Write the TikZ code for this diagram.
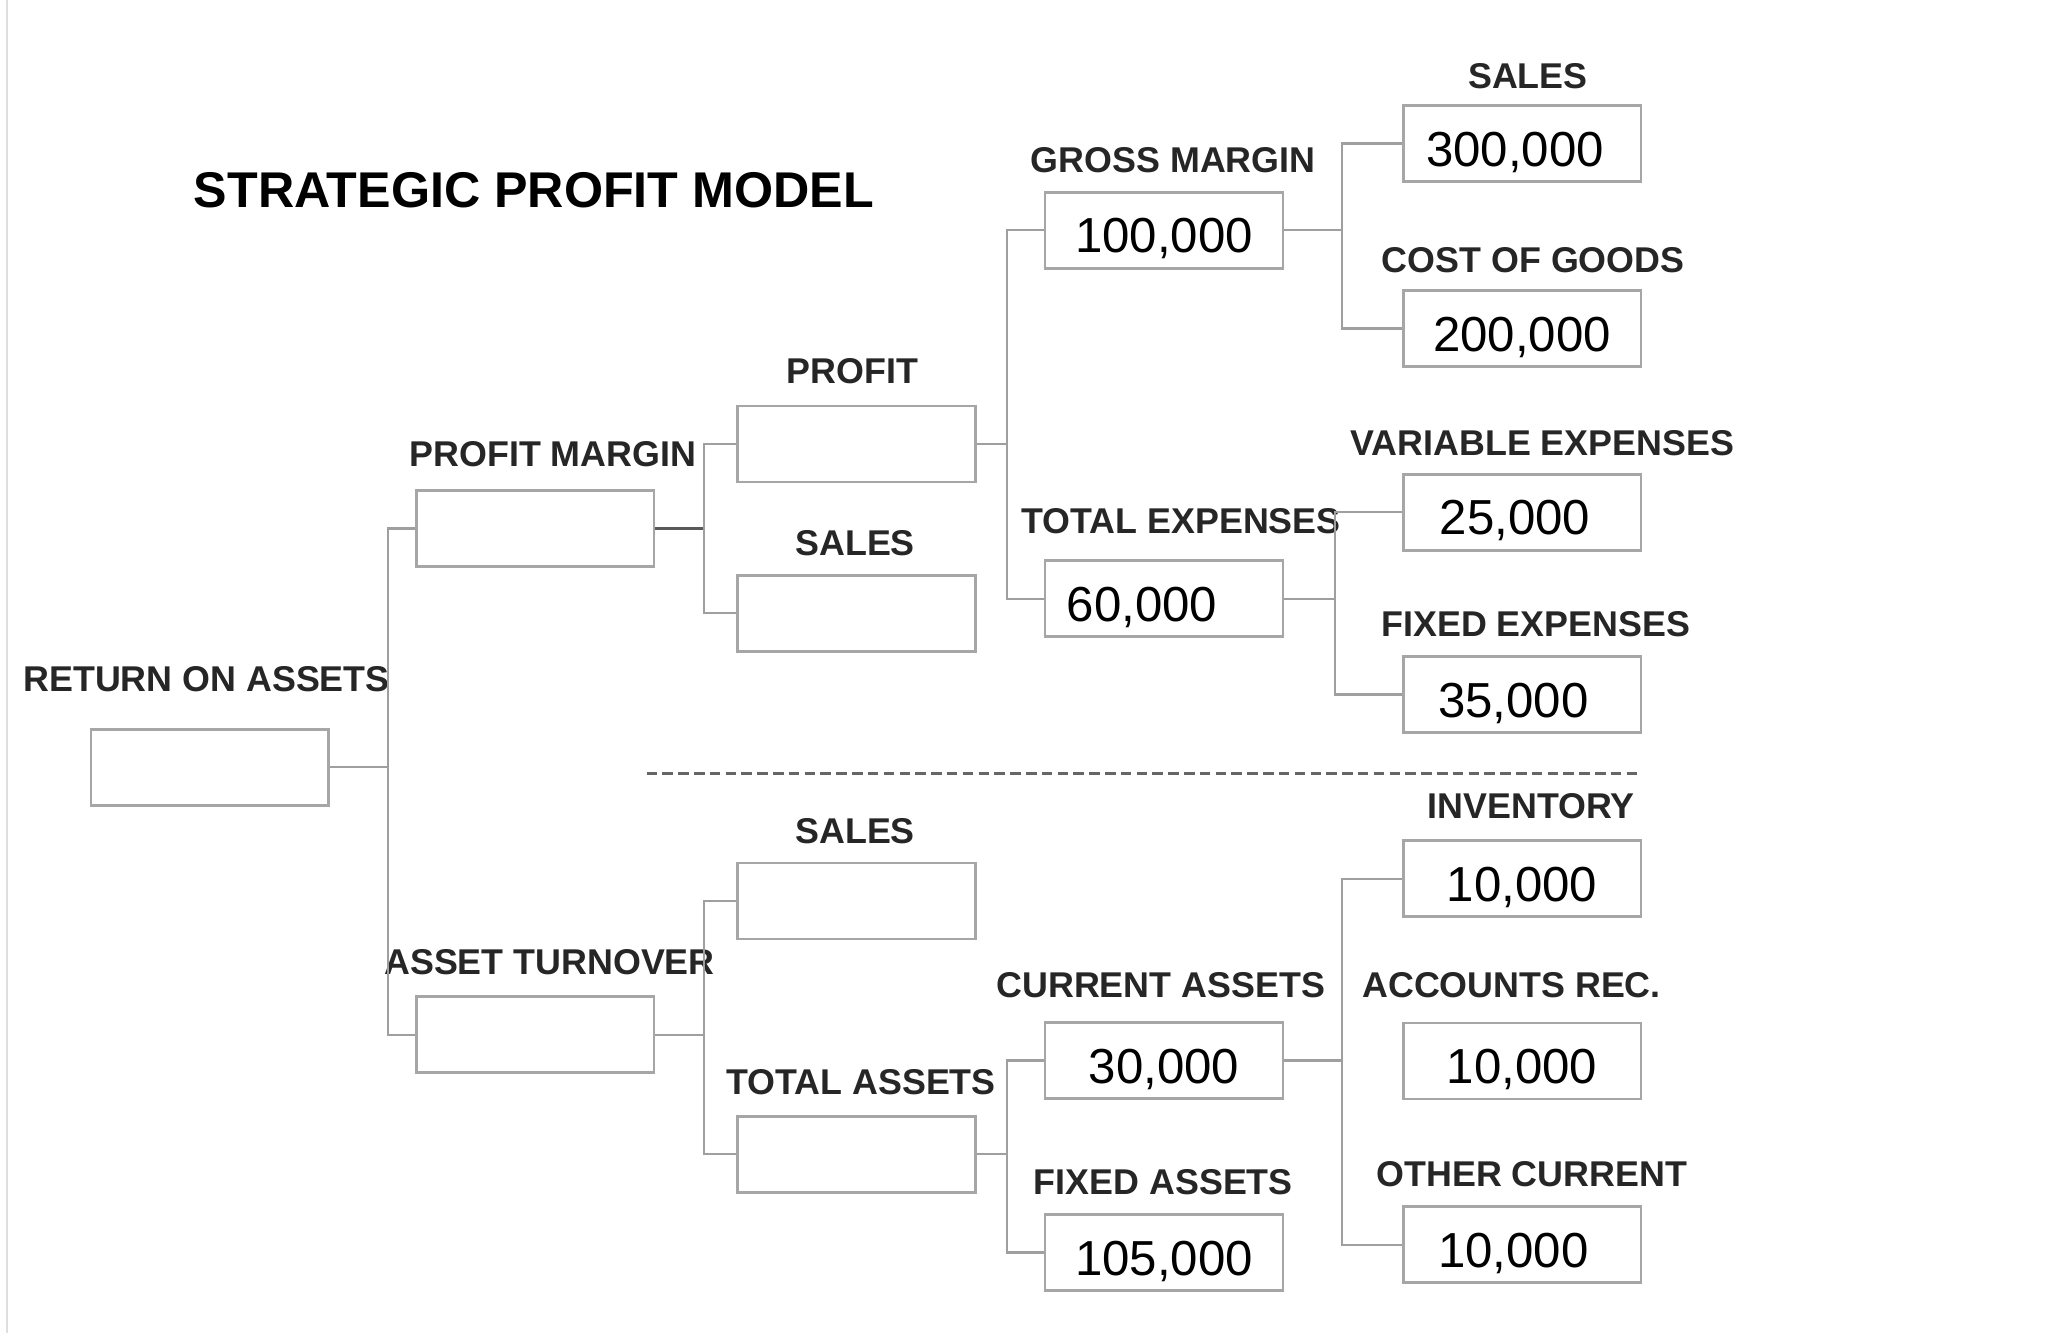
\documentclass[tikz,border=0pt]{standalone}
\usepackage{fontspec}
\setmainfont{Liberation Sans}
\usepackage{tikz}
\usetikzlibrary{positioning}

\begin{document}
\begin{tikzpicture}[x=0.013115cm,y=-0.013115cm,
    box node/.style={draw=gray!70,line width=0.8pt,minimum width=2.38cm,minimum height=0.76cm,
                     inner sep=0pt,text height=14pt,text depth=1pt,font=\fontsize{14}{16}\selectfont},
    label node/.style={inner sep=0pt,text=black!85,font=\bfseries\fontsize{10.2}{12}\selectfont},
    conn/.style={draw=gray!75,line width=0.65pt}]

  \fill[white] (0,0) rectangle (1560,1016.4);
  \useasboundingbox (0,0) rectangle (1560,1016.4);
  \draw[gray!25,line width=0.6pt] (5,0) -- (5,1016.4);

  \node[inner sep=0pt,font=\bfseries\fontsize{14.3}{16}\selectfont] (title) at (407,145) {STRATEGIC PROFIT MODEL};

  % boxes
  \node[box node] (roa) at (160,585) {};
  \node[box node] (pm) at (408,403) {};
  \node[box node] (at) at (408,789) {};
  \node[box node] (profit) at (653,338.5) {};
  \node[box node] (sales1) at (653,467.5) {};
  \node[box node] (sales2) at (653,687) {};
  \node[box node] (ta) at (653,880) {};
  \node[box node] (gm) at (887.5,175.5) {100,000};
  \node[box node] (te) at (887.5,456.5) {60,000\rule{12.5pt}{0pt}};
  \node[box node] (ca) at (887.5,808.5) {30,000};
  \node[box node] (fa) at (887.5,955) {105,000};
  \node[box node] (sales3) at (1160.5,109.5) {300,000\rule{4pt}{0pt}};
  \node[box node] (cog) at (1160.5,250.5) {200,000};
  \node[box node] (ve) at (1160.5,390.5) {25,000\rule{4pt}{0pt}};
  \node[box node] (fe) at (1160.5,529.5) {35,000\rule{5pt}{0pt}};
  \node[box node] (inv) at (1160.5,670) {10,000};
  \node[box node] (ar) at (1160.5,809) {10,000};
  \node[box node] (oc) at (1160.5,949) {10,000\rule{5pt}{0pt}};

  % labels
  \node[label node] (roa label) at (157.5,518) {RETURN ON ASSETS};
  \node[label node] (pm label) at (421.5,346) {PROFIT MARGIN};
  \node[label node] (at label) at (419,734) {ASSET TURNOVER};
  \node[label node] (profit label) at (650,283) {PROFIT};
  \node[label node] (sales1 label) at (652,414) {SALES};
  \node[label node] (sales2 label) at (652,634) {SALES};
  \node[label node] (ta label) at (656.5,825) {TOTAL ASSETS};
  \node[label node] (gm label) at (894.5,122) {GROSS MARGIN};
  \node[label node] (te label) at (900.5,397) {TOTAL EXPENSES};
  \node[label node] (ca label) at (885,751) {CURRENT ASSETS};
  \node[label node] (fa label) at (887,901) {FIXED ASSETS};
  \node[label node] (sales3 label) at (1165,58) {SALES};
  \node[label node] (cog label) at (1169,198) {COST OF GOODS};
  \node[label node] (ve label) at (1176,338) {VARIABLE EXPENSES};
  \node[label node] (fe label) at (1171,476) {FIXED EXPENSES};
  \node[label node] (inv label) at (1167.5,615) {INVENTORY};
  \node[label node] (ar label) at (1152.5,751) {ACCOUNTS REC.};
  \node[label node] (oc label) at (1168,895) {OTHER CURRENT};

  % bus lines
  \coordinate (bus roa) at (296,0);
  \coordinate (bus pm) at (537,0);
  \coordinate (bus at) at (537,0);
  \coordinate (bus profit) at (768,0);
  \coordinate (bus ta) at (768,0);
  \coordinate (bus gm) at (1023,0);
  \coordinate (bus te) at (1018,0);
  \coordinate (bus ca) at (1023,0);

  \draw[conn] (roa.east) -- (roa.east -| bus roa);
  \draw[conn] (pm.west) -- (pm.west -| bus roa) -- (at.west -| bus roa) -- (at.west);

  \draw[conn,draw=black!65] (pm.east) -- (pm.east -| bus pm);
  \draw[conn] (profit.west) -- (profit.west -| bus pm) -- (sales1.west -| bus pm) -- (sales1.west);

  \draw[conn] (at.east) -- (at.east -| bus at);
  \draw[conn] (sales2.west) -- (sales2.west -| bus at) -- (ta.west -| bus at) -- (ta.west);

  \draw[conn] (profit.east) -- (profit.east -| bus profit);
  \draw[conn] (gm.west) -- (gm.west -| bus profit) -- (te.west -| bus profit) -- (te.west);

  \draw[conn] (ta.east) -- (ta.east -| bus ta);
  \draw[conn] (ca.west) -- (ca.west -| bus ta) -- (fa.west -| bus ta) -- (fa.west);

  \draw[conn] (gm.east) -- (gm.east -| bus gm);
  \draw[conn] (sales3.west) -- (sales3.west -| bus gm) -- (cog.west -| bus gm) -- (cog.west);

  \draw[conn] (te.east) -- (te.east -| bus te);
  \draw[conn] (ve.west) -- (ve.west -| bus te) -- (fe.west -| bus te) -- (fe.west);

  \draw[conn] (ca.east) -- (ca.east -| bus ca);
  \draw[conn] (inv.west) -- (inv.west -| bus ca) -- (oc.west -| bus ca) -- (oc.west);

  % divider
  \coordinate (divider start) at (493,590);
  \coordinate (divider end) at (1251,590);
  \draw[black!60,line width=0.8pt,dash pattern=on 3pt off 1.5pt] (divider start) -- (divider end);
\end{tikzpicture}
\end{document}
